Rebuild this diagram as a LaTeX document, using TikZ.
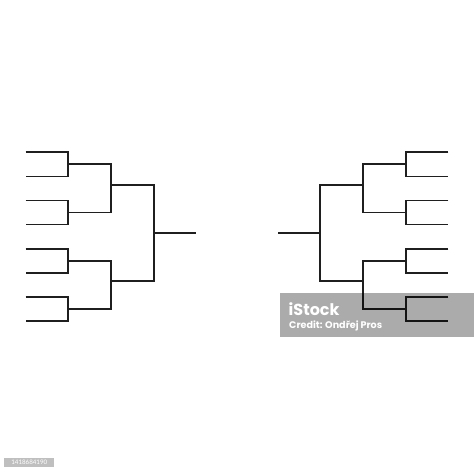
\documentclass[tikz,border=0pt]{standalone}
\usepackage{fontspec}
\setmainfont{Lato}
\newfontfamily\markfont{Poppins}

\begin{document}
\begin{tikzpicture}[x=1pt, y=-1pt,
    bracket/.style = {draw=black!88, line width=1.7pt},
    shade box/.style = {fill=black, opacity=0.33},
    mark text/.style = {text=white, inner sep=0pt, anchor=base west}]
    \useasboundingbox (0,0) rectangle (474,474);
    \foreach \side/\xs/\sx in {L/1/0, R/-1/474} {
      \begin{scope}[xshift=\sx pt, xscale=\xs]
        \foreach \i in {1,...,8}
          \coordinate (\side-l\i) at (25.7, 128.2+24.1*\i);
        \foreach \j in {1,...,4}
          \coordinate (\side-q\j) at (68.3, 116.1+48.2*\j);
        \coordinate (\side-s1) at (111, 185.3);
        \coordinate (\side-s2) at (111, 281.3);
        \coordinate (\side-f)  at (153.7, 233.3);
        \coordinate (\side-w)  at (196, 233.3);
        \foreach \j [evaluate=\j as \a using int(2*\j-1),
                     evaluate=\j as \b using int(2*\j)] in {1,...,4}
          \draw[bracket] (\side-l\a) -| (\side-q\j) |- (\side-l\b);
        \draw[bracket] (\side-q1) -| (\side-s1) |- (\side-q2);
        \draw[bracket] (\side-q3) -| (\side-s2) |- (\side-q4);
        \draw[bracket] (\side-s1) -| (\side-f) |- (\side-s2);
        \draw[bracket] (\side-f) -- (\side-w);
      \end{scope}
    }
    \fill[shade box] (279.7,293.3) rectangle (474,336.5);
    \node[mark text, font=\markfont\fontsize{16}{18}\selectfont\bfseries] (istock) at (288.5,315.3) {iStock};
    \node[mark text, font=\markfont\fontsize{9.6}{11}\selectfont\bfseries] (credit) at (289,328) {Credit: Ondřej Pros};
    \fill[shade box, opacity=0.25] (4.3,458.3) rectangle (54.3,466.7);
    \node[text=white, inner sep=0pt, font=\fontsize{6.2}{7}\selectfont] (imgid) at (29.3,462.5) {1418684190};
\end{tikzpicture}
\end{document}
